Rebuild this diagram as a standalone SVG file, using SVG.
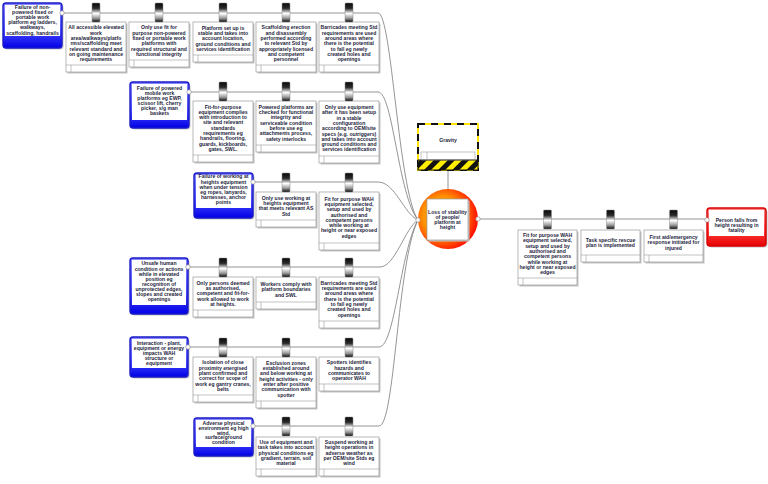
<svg xmlns="http://www.w3.org/2000/svg" width="768" height="484" viewBox="0 0 768 484">
<style>
.t{font-family:"Liberation Sans",Arial,sans-serif;font-size:5.1px;font-weight:bold;fill:#1c1c3c;text-anchor:middle}
.box{fill:#fff;stroke:#9a9a9a;stroke-width:0.7}
.sh{fill:#c4c4c4}
.foot{fill:none;stroke:#9a9a9a;stroke-width:0.6}
.con{fill:none;stroke:#7a7a7a;stroke-width:0.8}
.knob{fill:url(#knobg);stroke:#8a8a8a;stroke-width:0.5}
.dot{fill:#fff;stroke:#8a8a8a;stroke-width:0.6}
.thr{fill:url(#blueg);stroke:#1a1ac8;stroke-width:1.4}
.inw{fill:#fff}
</style>
<defs>
<linearGradient id="knobg" x1="0" y1="0" x2="0" y2="1">
<stop offset="0" stop-color="#0a0a0a"/><stop offset="0.28" stop-color="#2a2a2a"/><stop offset="0.55" stop-color="#ffffff"/><stop offset="0.8" stop-color="#999999"/><stop offset="1" stop-color="#0a0a0a"/>
</linearGradient>
<linearGradient id="blueg" x1="0" y1="0" x2="0" y2="1">
<stop offset="0" stop-color="#8a8aff"/><stop offset="0.6" stop-color="#4a4aff"/><stop offset="1" stop-color="#0000e6"/>
</linearGradient>
<linearGradient id="redg" x1="0" y1="0" x2="0" y2="1">
<stop offset="0" stop-color="#ff8a8a"/><stop offset="0.6" stop-color="#ff4040"/><stop offset="1" stop-color="#e60000"/>
</linearGradient>
<radialGradient id="topg" cx="0.4" cy="0.45" r="0.6">
<stop offset="0" stop-color="#ffc040"/><stop offset="0.55" stop-color="#ff9000"/><stop offset="1" stop-color="#ff1000"/>
</radialGradient>
<pattern id="stripes" width="10" height="10" patternUnits="userSpaceOnUse" patternTransform="rotate(45)">
<rect width="10" height="10" fill="#ffee00"/><rect width="5" height="10" fill="#111"/>
</pattern>
</defs>
<rect width="768" height="484" fill="#fff"/>

<g id="connectors">
<path class="con" d="M62 13 H378 C392 13 398 190 418 220"/>
<path class="con" d="M189 92 H378 C393 92 398 195 418 220"/>
<path class="con" d="M253 182 H378 C395 182 404 214 418 220"/>
<path class="con" d="M188 267 H380 C395 267 405 228 418 220"/>
<path class="con" d="M188 347 H379 C395 347 400 252 418 220"/>
<path class="con" d="M253 426 H379 C395 426 397 262 418 220"/>
<path class="con" d="M448 170 V189"/>
<path class="con" d="M478 219 H707"/>
</g>

<!-- Threat 1 -->
<g id="threat1">
<rect class="sh" x="4.5" y="4.5" width="59" height="45" rx="3"/>
<rect class="thr" x="3" y="3" width="59" height="45" rx="3"/>
<rect class="inw" x="5" y="5" width="55" height="31"/>
<text class="t"><tspan x="32.5" y="9">Failure of non-</tspan><tspan x="32.5" y="14.1">powered fixed or</tspan><tspan x="32.5" y="19.2">portable work</tspan><tspan x="32.5" y="24.3">platform eg ladders,</tspan><tspan x="32.5" y="29.4">walkways,</tspan><tspan x="32.5" y="34.5">scaffolding, handrails</tspan></text>
<circle class="dot" cx="62" cy="13" r="2.2"/>
</g>
<g id="c1-1">
<rect class="sh" x="67.5" y="23.5" width="60" height="50"/>
<rect class="box" x="66" y="22" width="60" height="50"/>
<path class="foot" d="M66 65 H126 M71 65 V72"/>
<text class="t"><tspan x="96" y="29.3">All accessible elevated</tspan><tspan x="96" y="34.6">work</tspan><tspan x="96" y="39.9">area/walkways/platfo</tspan><tspan x="96" y="45.2">rms/scaffolding meet</tspan><tspan x="96" y="50.5">relevant standard and</tspan><tspan x="96" y="55.8">on going maintenance</tspan><tspan x="96" y="61.1">requirements</tspan></text>
<rect class="knob" x="92" y="3" width="8" height="19" rx="1"/>
</g>
<g id="c1-2">
<rect class="sh" x="130.5" y="23.5" width="60" height="45"/>
<rect class="box" x="129" y="22" width="60" height="45"/>
<path class="foot" d="M129 60 H189 M134 60 V67"/>
<text class="t"><tspan x="159" y="29.45">Only use fit for</tspan><tspan x="159" y="34.75">purpose non-powered</tspan><tspan x="159" y="40.05">fixed or portable work</tspan><tspan x="159" y="45.35">platforms with</tspan><tspan x="159" y="50.65">required structural and</tspan><tspan x="159" y="55.95">functional integrity</tspan></text>
<rect class="knob" x="155" y="3" width="8" height="19" rx="1"/>
</g>
<g id="c1-3">
<rect class="sh" x="194.5" y="23.5" width="60" height="40"/>
<rect class="box" x="193" y="22" width="60" height="40"/>
<path class="foot" d="M193 55 H253 M198 55 V62"/>
<text class="t"><tspan x="223" y="29.6">Platform set up is</tspan><tspan x="223" y="34.9">stable and takes into</tspan><tspan x="223" y="40.2">account location,</tspan><tspan x="223" y="45.5">ground conditions and</tspan><tspan x="223" y="50.8">services identification</tspan></text>
<rect class="knob" x="219" y="3" width="8" height="19" rx="1"/>
</g>
<g id="c1-4">
<rect class="sh" x="257.5" y="23.5" width="60" height="50"/>
<rect class="box" x="256" y="22" width="60" height="50"/>
<path class="foot" d="M256 65 H316 M261 65 V72"/>
<text class="t"><tspan x="286" y="29.3">Scaffolding erection</tspan><tspan x="286" y="34.6">and disassembly</tspan><tspan x="286" y="39.9">performed according</tspan><tspan x="286" y="45.2">to relevant Std by</tspan><tspan x="286" y="50.5">appropriately licensed</tspan><tspan x="286" y="55.8">and competent</tspan><tspan x="286" y="61.1">personnel</tspan></text>
<rect class="knob" x="282" y="3" width="8" height="19" rx="1"/>
</g>
<g id="c1-5">
<rect class="sh" x="320.5" y="23.5" width="60" height="50"/>
<rect class="box" x="319" y="22" width="60" height="50"/>
<path class="foot" d="M319 65 H379 M324 65 V72"/>
<text class="t"><tspan x="349" y="29.3">Barricades meeting Std</tspan><tspan x="349" y="34.6">requirements are used</tspan><tspan x="349" y="39.9">around areas where</tspan><tspan x="349" y="45.2">there is the potential</tspan><tspan x="349" y="50.5">to fall eg newly</tspan><tspan x="349" y="55.8">created holes and</tspan><tspan x="349" y="61.1">openings</tspan></text>
<rect class="knob" x="345" y="3" width="8" height="19" rx="1"/>
</g>

<!-- Threat 2 -->
<g id="threat2">
<rect class="sh" x="131.5" y="83.5" width="59" height="46" rx="3"/>
<rect class="thr" x="130" y="82" width="59" height="46" rx="3"/>
<rect class="inw" x="132" y="84" width="55" height="36"/>
<text class="t"><tspan x="159.5" y="89.5">Failure of powered</tspan><tspan x="159.5" y="94.6">mobile work</tspan><tspan x="159.5" y="99.7">platforms eg EWP,</tspan><tspan x="159.5" y="104.8">scissor lift, cherry</tspan><tspan x="159.5" y="109.9">picker, s/g man</tspan><tspan x="159.5" y="115">baskets</tspan></text>
<circle class="dot" cx="189" cy="92" r="2.2"/>
</g>
<g id="c2-1">
<rect class="sh" x="194.5" y="102.5" width="60" height="61"/>
<rect class="box" x="193" y="101" width="60" height="61"/>
<path class="foot" d="M193 155 H253 M198 155 V162"/>
<text class="t"><tspan x="223" y="108.5">Fit-for-purpose</tspan><tspan x="223" y="113.8">equipment complies</tspan><tspan x="223" y="119.1">with introduction to</tspan><tspan x="223" y="124.4">site and relevant</tspan><tspan x="223" y="129.7">standards</tspan><tspan x="223" y="135">requirements eg</tspan><tspan x="223" y="140.3">handrails, flooring,</tspan><tspan x="223" y="145.6">guards, kickboards,</tspan><tspan x="223" y="150.9">gates, SWL.</tspan></text>
<rect class="knob" x="219" y="82" width="8" height="19" rx="1"/>
</g>
<g id="c2-2">
<rect class="sh" x="257.5" y="102.5" width="60" height="51"/>
<rect class="box" x="256" y="101" width="60" height="51"/>
<path class="foot" d="M256 145 H316 M261 145 V152"/>
<text class="t"><tspan x="286" y="108.8">Powered platforms are</tspan><tspan x="286" y="114.1">checked for functional</tspan><tspan x="286" y="119.4">integrity and</tspan><tspan x="286" y="124.7">serviceable condition</tspan><tspan x="286" y="130">before use eg</tspan><tspan x="286" y="135.3">attachments process,</tspan><tspan x="286" y="140.6">safety interlocks</tspan></text>
<rect class="knob" x="282" y="82" width="8" height="19" rx="1"/>
</g>
<g id="c2-3">
<rect class="sh" x="320.5" y="102.5" width="60" height="62"/>
<rect class="box" x="319" y="101" width="60" height="62"/>
<path class="foot" d="M319 156 H379 M324 156 V163"/>
<text class="t"><tspan x="349" y="109">Only use equipment</tspan><tspan x="349" y="114.3">after it has been setup</tspan><tspan x="349" y="119.6">in a stable</tspan><tspan x="349" y="124.9">configuration</tspan><tspan x="349" y="130.2">according to OEM/site</tspan><tspan x="349" y="135.5">specs (e.g. outriggers)</tspan><tspan x="349" y="140.8">and takes into account</tspan><tspan x="349" y="146.1">ground conditions and</tspan><tspan x="349" y="151.4">services identification</tspan></text>
<rect class="knob" x="345" y="82" width="8" height="19" rx="1"/>
</g>

<!-- Threat 3 -->
<g id="threat3">
<rect class="sh" x="195.5" y="174.5" width="59" height="45" rx="3"/>
<rect class="thr" x="194" y="173" width="59" height="45" rx="3"/>
<rect class="inw" x="196" y="175" width="55" height="33"/>
<text class="t"><tspan x="223.5" y="178.4">Failure of working at</tspan><tspan x="223.5" y="183.6">heights equipment</tspan><tspan x="223.5" y="188.8">when under tension</tspan><tspan x="223.5" y="194">eg ropes, lanyards,</tspan><tspan x="223.5" y="199.2">harnesses, anchor</tspan><tspan x="223.5" y="204.4">points</tspan></text>
<circle class="dot" cx="253" cy="182" r="2.2"/>
</g>
<g id="c3-1">
<rect class="sh" x="257.5" y="193.5" width="60" height="35"/>
<rect class="box" x="256" y="192" width="60" height="35"/>
<path class="foot" d="M256 220 H316 M261 220 V227"/>
<text class="t"><tspan x="286" y="199.75">Only use working at</tspan><tspan x="286" y="205.05">heights equipment</tspan><tspan x="286" y="210.35">that meets relevant AS</tspan><tspan x="286" y="215.65">Std</tspan></text>
<rect class="knob" x="282" y="173" width="8" height="19" rx="1"/>
</g>
<g id="c3-2">
<rect class="sh" x="320.5" y="193.5" width="60" height="58"/>
<rect class="box" x="319" y="192" width="60" height="58"/>
<path class="foot" d="M319 243 H379 M324 243 V250"/>
<text class="t"><tspan x="349" y="200.65">Fit for purpose WAH</tspan><tspan x="349" y="205.95">equipment selected,</tspan><tspan x="349" y="211.25">setup and used by</tspan><tspan x="349" y="216.55">authorised and</tspan><tspan x="349" y="221.85">competent persons</tspan><tspan x="349" y="227.15">while working at</tspan><tspan x="349" y="232.45">height or near exposed</tspan><tspan x="349" y="237.75">edges</tspan></text>
<rect class="knob" x="345" y="173" width="8" height="19" rx="1"/>
</g>

<!-- Threat 4 -->
<g id="threat4">
<rect class="sh" x="131.5" y="259.5" width="58" height="56" rx="3"/>
<rect class="thr" x="130" y="258" width="58" height="56" rx="3"/>
<rect class="inw" x="132" y="260" width="54" height="45"/>
<text class="t"><tspan x="159" y="265.4">Unsafe human</tspan><tspan x="159" y="270.5">condition or actions</tspan><tspan x="159" y="275.6">while in elevated</tspan><tspan x="159" y="280.7">position eg</tspan><tspan x="159" y="285.8">recognition of</tspan><tspan x="159" y="290.9">unprotected edges,</tspan><tspan x="159" y="296">slopes and created</tspan><tspan x="159" y="301.1">openings</tspan></text>
<circle class="dot" cx="188" cy="267" r="2.2"/>
</g>
<g id="c4-1">
<rect class="sh" x="194.5" y="278.5" width="60" height="40"/>
<rect class="box" x="193" y="277" width="60" height="40"/>
<path class="foot" d="M193 310 H253 M198 310 V317"/>
<text class="t"><tspan x="223" y="284.6">Only persons deemed</tspan><tspan x="223" y="289.9">as authorised,</tspan><tspan x="223" y="295.2">competent and fit-for-</tspan><tspan x="223" y="300.5">work allowed to work</tspan><tspan x="223" y="305.8">at heights.</tspan></text>
<rect class="knob" x="219" y="258" width="8" height="19" rx="1"/>
</g>
<g id="c4-2">
<rect class="sh" x="257.5" y="278.5" width="60" height="32"/>
<rect class="box" x="256" y="277" width="60" height="32"/>
<path class="foot" d="M256 302 H316 M261 302 V309"/>
<text class="t"><tspan x="286" y="285.9">Workers comply with</tspan><tspan x="286" y="291.2">platform boundaries</tspan><tspan x="286" y="296.5">and SWL</tspan></text>
<rect class="knob" x="282" y="258" width="8" height="19" rx="1"/>
</g>
<g id="c4-3">
<rect class="sh" x="320.5" y="278.5" width="60" height="51"/>
<rect class="box" x="319" y="277" width="60" height="51"/>
<path class="foot" d="M319 321 H379 M324 321 V328"/>
<text class="t"><tspan x="349" y="284.8">Barricades meeting Std</tspan><tspan x="349" y="290.1">requirements are used</tspan><tspan x="349" y="295.4">around areas where</tspan><tspan x="349" y="300.7">there is the potential</tspan><tspan x="349" y="306">to fall eg newly</tspan><tspan x="349" y="311.3">created holes and</tspan><tspan x="349" y="316.6">openings</tspan></text>
<rect class="knob" x="345" y="258" width="8" height="19" rx="1"/>
</g>

<!-- Threat 5 -->
<g id="threat5">
<rect class="sh" x="131.5" y="338.5" width="58" height="40" rx="3"/>
<rect class="thr" x="130" y="337" width="58" height="40" rx="3"/>
<rect class="inw" x="132" y="339" width="54" height="29"/>
<text class="t"><tspan x="159" y="345.4">Interaction - plant,</tspan><tspan x="159" y="350.4">equipment or energy</tspan><tspan x="159" y="355.4">impacts WAH</tspan><tspan x="159" y="360.4">structure or</tspan><tspan x="159" y="365.4">equipment</tspan></text>
<circle class="dot" cx="188" cy="347" r="2.2"/>
</g>
<g id="c5-1">
<rect class="sh" x="194.5" y="358.5" width="60" height="45"/>
<rect class="box" x="193" y="357" width="60" height="45"/>
<path class="foot" d="M193 395 H253 M198 395 V402"/>
<text class="t"><tspan x="223" y="364.45">Isolation of close</tspan><tspan x="223" y="369.75">proximity energised</tspan><tspan x="223" y="375.05">plant confirmed and</tspan><tspan x="223" y="380.35">correct for scope of</tspan><tspan x="223" y="385.65">work eg gantry cranes,</tspan><tspan x="223" y="390.95">belts</tspan></text>
<rect class="knob" x="219" y="338" width="8" height="19" rx="1"/>
</g>
<g id="c5-2">
<rect class="sh" x="257.5" y="358.5" width="60" height="51"/>
<rect class="box" x="256" y="357" width="60" height="51"/>
<path class="foot" d="M256 401 H316 M261 401 V408"/>
<text class="t"><tspan x="286" y="364.8">Exclusion zones</tspan><tspan x="286" y="370.1">established around</tspan><tspan x="286" y="375.4">and below working at</tspan><tspan x="286" y="380.7">height activities - only</tspan><tspan x="286" y="386">enter after positive</tspan><tspan x="286" y="391.3">communication with</tspan><tspan x="286" y="396.6">spotter</tspan></text>
<rect class="knob" x="282" y="338" width="8" height="19" rx="1"/>
</g>
<g id="c5-3">
<rect class="sh" x="320.5" y="358.5" width="60" height="34"/>
<rect class="box" x="319" y="357" width="60" height="34"/>
<path class="foot" d="M319 384 H379 M324 384 V391"/>
<text class="t"><tspan x="349" y="364.25">Spotters identifies</tspan><tspan x="349" y="369.55">hazards and</tspan><tspan x="349" y="374.85">communicates to</tspan><tspan x="349" y="380.15">operator WAH</tspan></text>
<rect class="knob" x="345" y="338" width="8" height="19" rx="1"/>
</g>

<!-- Threat 6 -->
<g id="threat6">
<rect class="sh" x="195.5" y="419.5" width="59" height="38" rx="3"/>
<rect class="thr" x="194" y="418" width="59" height="38" rx="3"/>
<rect class="inw" x="196" y="420" width="55" height="27"/>
<text class="t"><tspan x="223.5" y="424.7">Adverse physical</tspan><tspan x="223.5" y="429.6">environment eg high</tspan><tspan x="223.5" y="434.5">wind,</tspan><tspan x="223.5" y="439.4">surface/ground</tspan><tspan x="223.5" y="444.3">condition</tspan></text>
<circle class="dot" cx="253" cy="426" r="2.2"/>
</g>
<g id="c6-1">
<rect class="sh" x="257.5" y="438.5" width="60" height="39"/>
<rect class="box" x="256" y="437" width="60" height="39"/>
<path class="foot" d="M256 469 H316 M261 469 V476"/>
<text class="t"><tspan x="286" y="444.1">Use of equipment and</tspan><tspan x="286" y="449.4">task takes into account</tspan><tspan x="286" y="454.7">physical conditions eg</tspan><tspan x="286" y="460">gradient, terrain, soil</tspan><tspan x="286" y="465.3">material</tspan></text>
<rect class="knob" x="282" y="417" width="8" height="19" rx="1"/>
</g>
<g id="c6-2">
<rect class="sh" x="320.5" y="438.5" width="60" height="39"/>
<rect class="box" x="319" y="437" width="60" height="39"/>
<path class="foot" d="M319 469 H379 M324 469 V476"/>
<text class="t"><tspan x="349" y="444.1">Suspend working at</tspan><tspan x="349" y="449.4">height operations in</tspan><tspan x="349" y="454.7">adverse weather as</tspan><tspan x="349" y="460">per OEM/site Stds eg</tspan><tspan x="349" y="465.3">wind</tspan></text>
<rect class="knob" x="345" y="417" width="8" height="19" rx="1"/>
</g>

<!-- Hazard -->
<g id="hazard">
<rect x="418" y="124" width="60" height="46" fill="#fff" stroke="#ffe600" stroke-width="2"/>
<rect x="418" y="124" width="60" height="46" fill="none" stroke="#111" stroke-width="2" stroke-dasharray="7 6"/>
<rect x="418" y="160" width="60" height="10" fill="url(#stripes)" stroke="#111" stroke-width="1"/>
<path class="foot" d="M421 152 H475 V160 H421 Z M427 152 V160"/>
<text class="t" x="448" y="141.5">Gravity</text>
</g>

<!-- Top event -->
<g id="topevent">
<circle cx="448" cy="219" r="30" fill="url(#topg)"/>
<rect class="sh" x="428.5" y="200.5" width="41" height="41"/>
<rect class="box" x="427" y="199" width="41" height="41"/>
<text class="t"><tspan x="447.5" y="214">Loss of stability</tspan><tspan x="447.5" y="219">of people/</tspan><tspan x="447.5" y="224">platform at</tspan><tspan x="447.5" y="229">height</tspan></text>
<circle class="dot" cx="418" cy="220" r="2.2"/>
<circle class="dot" cx="478" cy="219" r="2.2"/>
</g>

<!-- Consequence side controls -->
<g id="r1">
<rect class="sh" x="519.5" y="231.5" width="59" height="55"/>
<rect class="box" x="518" y="230" width="59" height="55"/>
<path class="foot" d="M518 278 H577 M523 278 V285"/>
<text class="t"><tspan x="547.5" y="237.15">Fit for purpose WAH</tspan><tspan x="547.5" y="242.45">equipment selected,</tspan><tspan x="547.5" y="247.75">setup and used by</tspan><tspan x="547.5" y="253.05">authorised and</tspan><tspan x="547.5" y="258.35">competent persons</tspan><tspan x="547.5" y="263.65">while working at</tspan><tspan x="547.5" y="268.95">height or near exposed</tspan><tspan x="547.5" y="274.25">edges</tspan></text>
<rect class="knob" x="543.5" y="210" width="8" height="19" rx="1"/>
</g>
<g id="r2">
<rect class="sh" x="582.5" y="231.5" width="59" height="32"/>
<rect class="box" x="581" y="230" width="59" height="32"/>
<path class="foot" d="M581 255 H640 M586 255 V262"/>
<text class="t"><tspan x="610.5" y="241.55">Task specific rescue</tspan><tspan x="610.5" y="246.85">plan is implemented</tspan></text>
<rect class="knob" x="606.5" y="210" width="8" height="19" rx="1"/>
</g>
<g id="r3">
<rect class="sh" x="645.5" y="231.5" width="59" height="32"/>
<rect class="box" x="644" y="230" width="59" height="32"/>
<path class="foot" d="M644 255 H703 M649 255 V262"/>
<text class="t"><tspan x="673.5" y="238.9">First aid/emergency</tspan><tspan x="673.5" y="244.2">response initiated for</tspan><tspan x="673.5" y="249.5">injured</tspan></text>
<rect class="knob" x="669.5" y="210" width="8" height="19" rx="1"/>
</g>

<!-- Consequence -->
<g id="consequence">
<rect class="sh" x="708.5" y="209.5" width="59" height="38" rx="3"/>
<rect x="707" y="208" width="59" height="38" rx="3" fill="url(#redg)" stroke="#d80000" stroke-width="1.4"/>
<rect class="inw" x="709" y="210" width="55" height="26"/>
<text class="t"><tspan x="736.5" y="221.7">Person falls from</tspan><tspan x="736.5" y="226.7">height resulting in</tspan><tspan x="736.5" y="231.7">fatality</tspan></text>
<circle class="dot" cx="707" cy="220" r="2.2"/>
</g>
</svg>
